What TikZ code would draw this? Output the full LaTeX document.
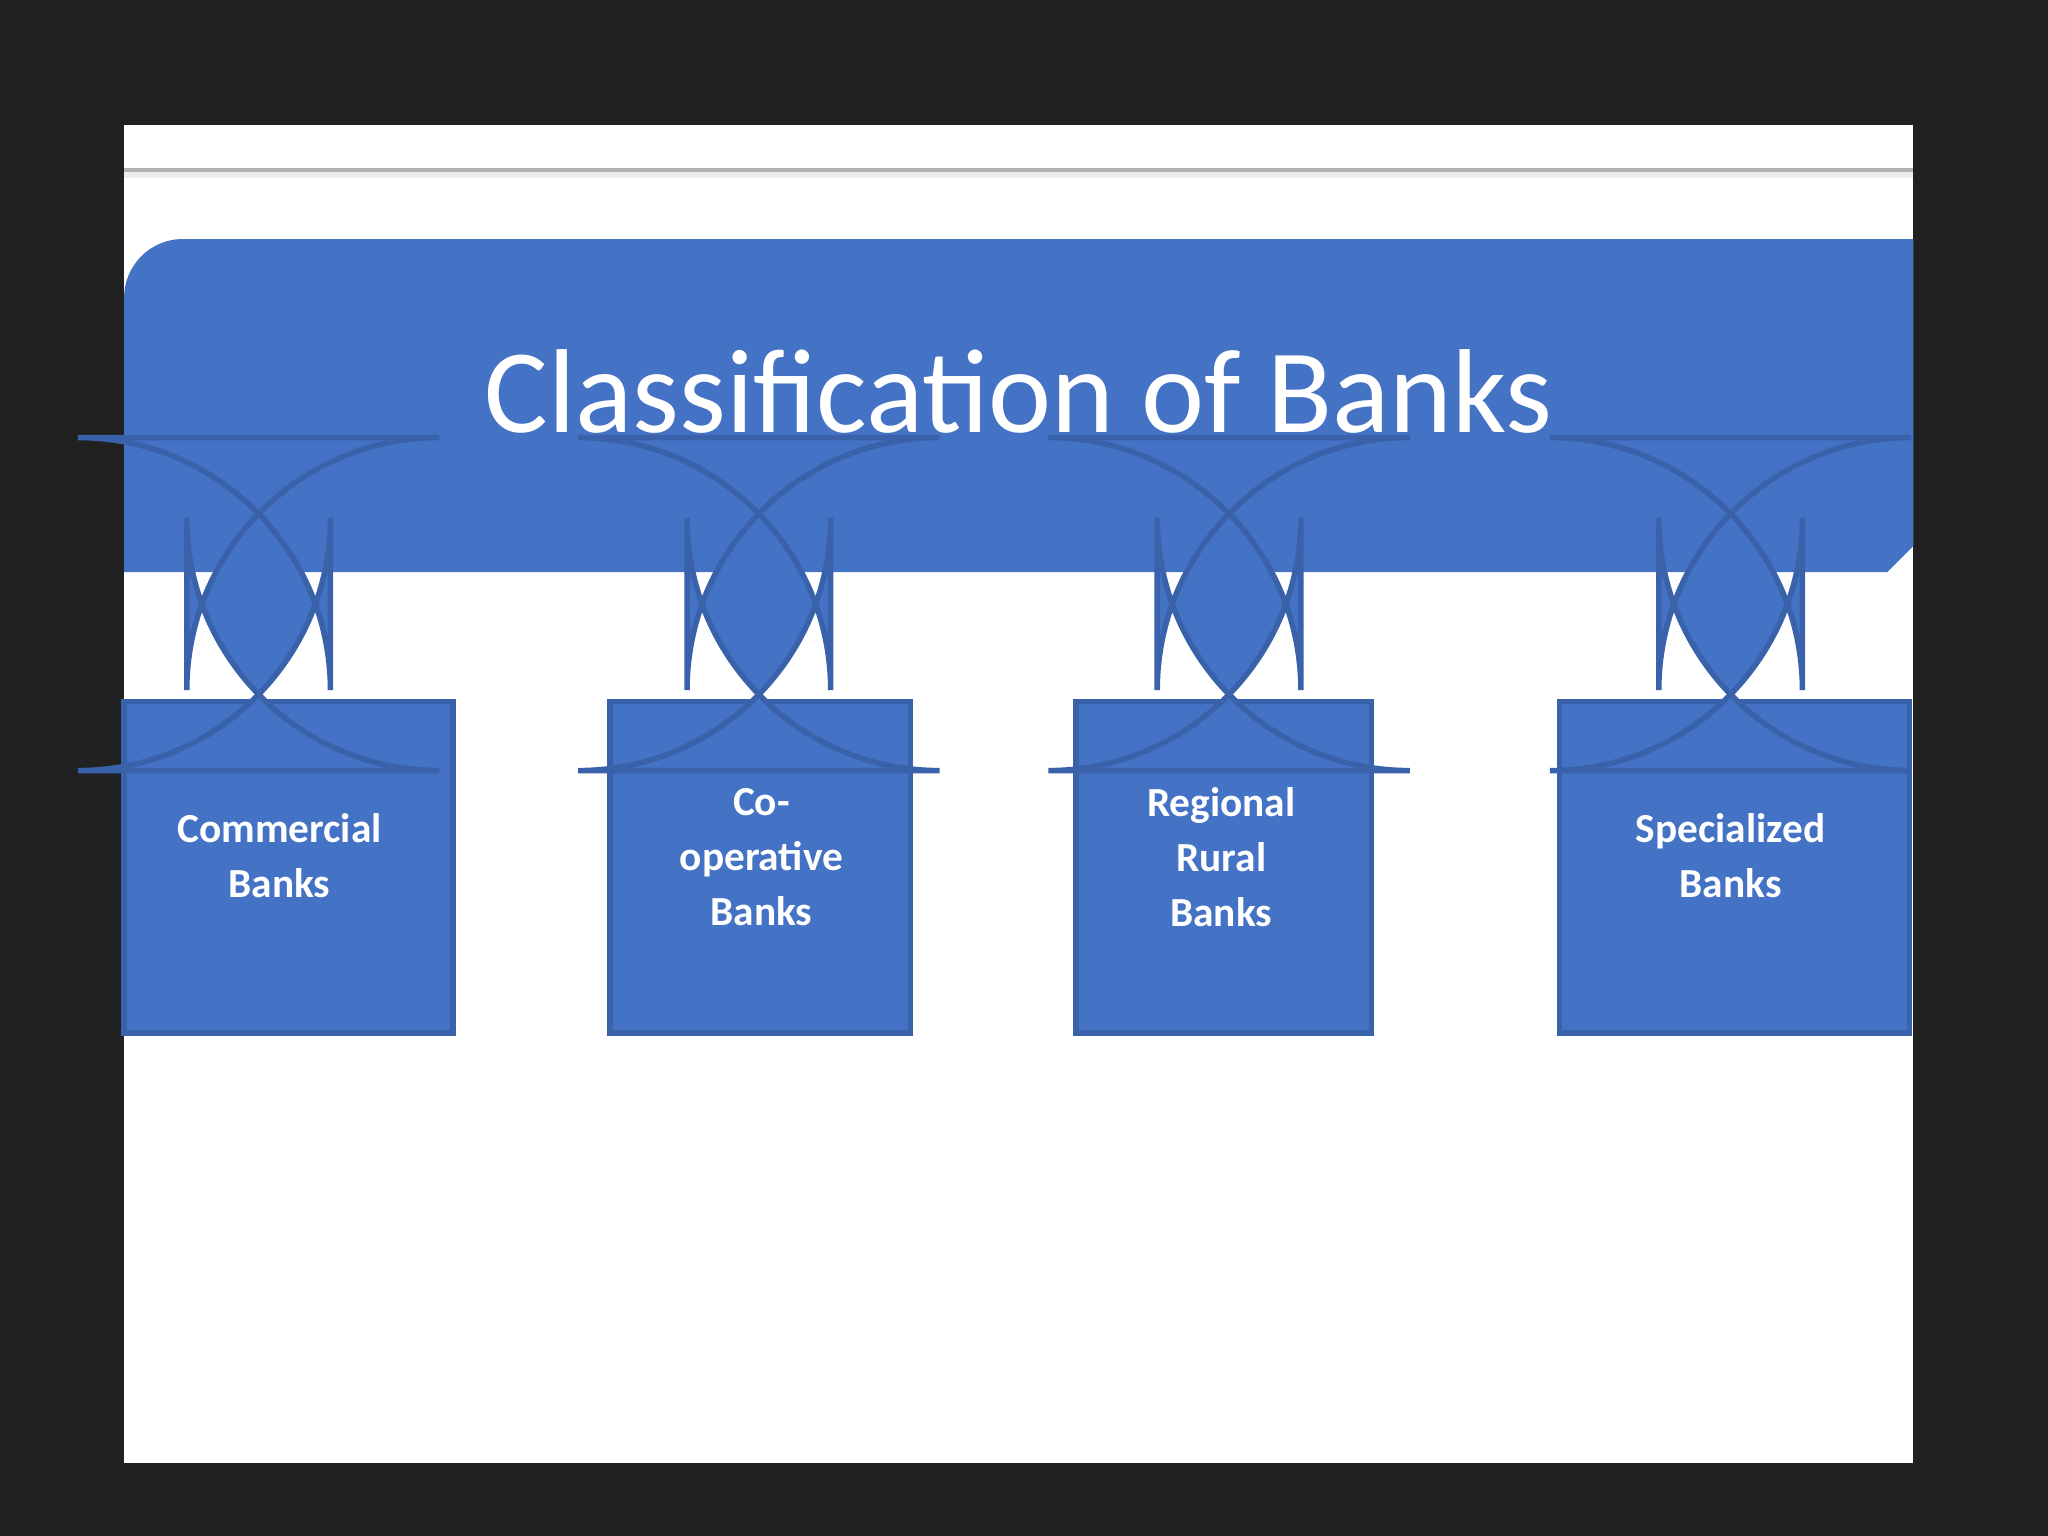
\documentclass[tikz,border=0pt]{standalone}
\usepackage{fontspec}
\setmainfont{Carlito}
\definecolor{bk}{HTML}{212121}
\definecolor{bl}{HTML}{4472C4}
\definecolor{bld}{HTML}{3A62AB}
\begin{document}
\begin{tikzpicture}[x=0.01cm,y=-0.01cm,
  boxs/.style={fill=bl,draw=bld,line width=1.2pt},
  pill/.style={fill=bl,draw=bld,line width=1.2pt,rounded corners=55},
  lbl/.style={text=white,font=\bfseries\fontsize{9}{12}\selectfont,align=center}]
\fill[bk] (0,0) rectangle (1568,1176);
\useasboundingbox (0,0) rectangle (1568,1176);
\fill[white] (95,96) rectangle (1465,1120);
\fill[gray!60] (95,129) rectangle (1465,132);
\fill[gray!15] (95,132) rectangle (1465,136);
\fill[bl] (95,228) arc[start angle=180,end angle=90,x radius=45,y radius=-45] -- (1465,183) -- (1465,418) -- (1445,438) -- (95,438) -- cycle;
\node[text=white,font=\fontsize{26}{30}\selectfont] (title) at (780,300) {Classification of Banks};
\draw[boxs] (95,537) rectangle (347,791);
\draw[boxs] (467,537) rectangle (697,791);
\draw[boxs] (824,537) rectangle (1050,791);
\draw[boxs] (1194,537) rectangle (1462,791);
\foreach \x/\n in {198/p1,581/p2,941/p3,1325/p4}
  \draw[pill] (\x-55,335) rectangle (\x+55,590);
\node[lbl] (b1) at (214,655) {Commercial\\Banks};
\node[lbl] (b2) at (583,656) {Co-\\operative\\Banks};
\node[lbl] (b3) at (935,656) {Regional\\Rural\\Banks};
\node[lbl] (b4) at (1325,655) {Specialized\\Banks};
\end{tikzpicture}
\end{document}
